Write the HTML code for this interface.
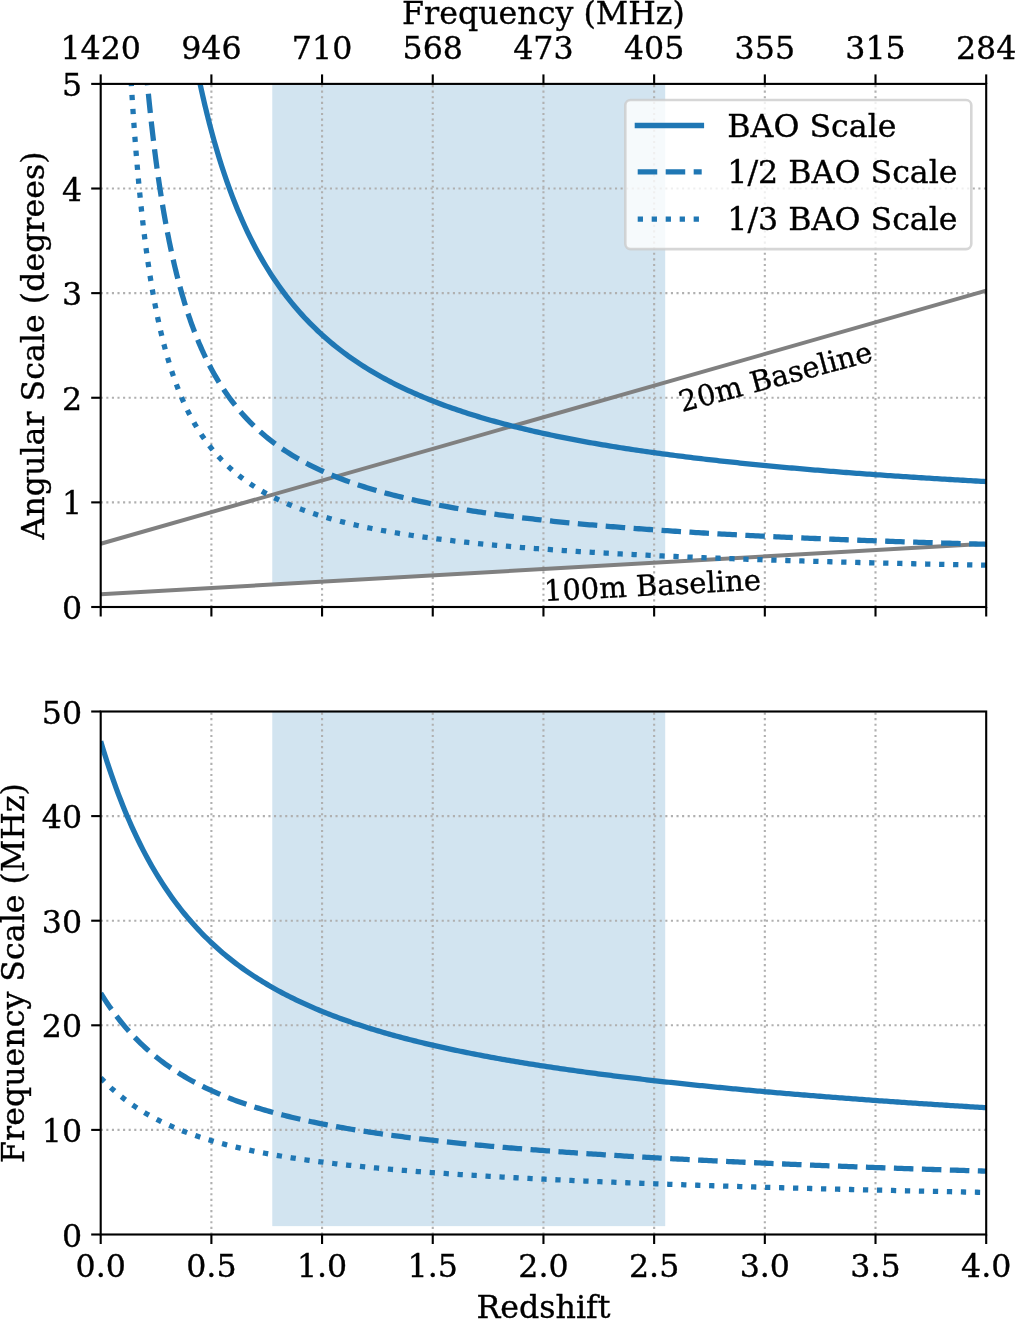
<!DOCTYPE html>
<html lang="en"><head><meta charset="utf-8"><title>BAO Scale vs Redshift</title>
<style>html,body{margin:0;padding:0;background:#fff}svg{display:block}text{stroke:#000;stroke-width:0.35px}</style></head>
<body>
<svg width="1015" height="1319" viewBox="0 0 1015 1319" font-family="'DejaVu Serif', 'Liberation Serif', serif" font-size="31.67" fill="#000">
<rect width="1015" height="1319" fill="#fff"/>
<defs><clipPath id="c1"><rect x="100.7" y="83.9" width="885.5" height="523.1"/></clipPath><clipPath id="c2"><rect x="100.7" y="711.5" width="885.5" height="523.0"/></clipPath></defs>
<g clip-path="url(#c1)">
<polygon fill="#d2e4f0" points="272.27,78.9 665.21,78.9 665.21,562.09 272.27,584.54"/>
<line x1="211.39" y1="607.0" x2="211.39" y2="83.9" stroke="#b0b0b0" stroke-width="2.11" stroke-dasharray="2.11 3.48"/>
<line x1="322.07" y1="607.0" x2="322.07" y2="83.9" stroke="#b0b0b0" stroke-width="2.11" stroke-dasharray="2.11 3.48"/>
<line x1="432.76" y1="607.0" x2="432.76" y2="83.9" stroke="#b0b0b0" stroke-width="2.11" stroke-dasharray="2.11 3.48"/>
<line x1="543.45" y1="607.0" x2="543.45" y2="83.9" stroke="#b0b0b0" stroke-width="2.11" stroke-dasharray="2.11 3.48"/>
<line x1="654.14" y1="607.0" x2="654.14" y2="83.9" stroke="#b0b0b0" stroke-width="2.11" stroke-dasharray="2.11 3.48"/>
<line x1="764.83" y1="607.0" x2="764.83" y2="83.9" stroke="#b0b0b0" stroke-width="2.11" stroke-dasharray="2.11 3.48"/>
<line x1="875.51" y1="607.0" x2="875.51" y2="83.9" stroke="#b0b0b0" stroke-width="2.11" stroke-dasharray="2.11 3.48"/>
<line x1="100.7" y1="502.38" x2="986.2" y2="502.38" stroke="#b0b0b0" stroke-width="2.11" stroke-dasharray="2.11 3.48"/>
<line x1="100.7" y1="397.76" x2="986.2" y2="397.76" stroke="#b0b0b0" stroke-width="2.11" stroke-dasharray="2.11 3.48"/>
<line x1="100.7" y1="293.14" x2="986.2" y2="293.14" stroke="#b0b0b0" stroke-width="2.11" stroke-dasharray="2.11 3.48"/>
<line x1="100.7" y1="188.52" x2="986.2" y2="188.52" stroke="#b0b0b0" stroke-width="2.11" stroke-dasharray="2.11 3.48"/>
<line x1="100.7" y1="543.74" x2="986.2" y2="290.71" stroke="#808080" stroke-width="3.96"/>
<line x1="100.7" y1="594.35" x2="986.2" y2="543.74" stroke="#808080" stroke-width="3.96"/>
<path d="M105.13,-9937.93 L105.66,-8808.23 L106.20,-7898.08 L106.73,-7149.14 L107.26,-6522.07 L107.80,-5989.37 L108.33,-5531.22 L108.87,-5132.99 L109.40,-4783.66 L109.93,-4474.74 L110.47,-4199.61 L111.00,-3953.00 L111.54,-3730.70 L112.07,-3529.29 L112.60,-3345.95 L113.14,-3178.36 L113.67,-3024.57 L114.20,-2882.95 L114.74,-2752.11 L115.27,-2630.85 L115.81,-2518.17 L116.34,-2413.19 L116.87,-2315.14 L117.41,-2223.37 L117.94,-2137.28 L118.48,-2056.36 L119.01,-1980.17 L119.54,-1908.29 L120.08,-1840.38 L120.61,-1776.12 L121.15,-1715.21 L121.68,-1657.41 L122.21,-1602.48 L122.75,-1550.21 L123.28,-1500.41 L123.82,-1452.92 L124.35,-1407.58 L124.88,-1364.24 L125.42,-1322.77 L125.95,-1283.06 L126.49,-1244.99 L127.02,-1208.47 L127.55,-1173.41 L128.09,-1139.71 L128.62,-1107.31 L129.16,-1076.12 L129.69,-1046.09 L130.22,-1017.14 L130.76,-989.22 L131.29,-962.28 L131.83,-936.26 L132.36,-911.12 L132.89,-886.82 L133.43,-863.32 L133.96,-840.56 L134.50,-818.53 L135.03,-797.19 L135.56,-776.50 L136.10,-756.44 L136.63,-736.97 L137.17,-718.08 L137.70,-699.73 L138.23,-681.90 L138.77,-664.58 L139.30,-647.74 L139.84,-631.36 L140.37,-615.42 L140.90,-599.90 L141.44,-584.79 L141.97,-570.08 L142.51,-555.74 L143.04,-541.76 L143.57,-528.14 L144.11,-514.85 L144.64,-501.88 L145.18,-489.23 L145.71,-476.87 L146.24,-464.81 L146.78,-453.03 L147.31,-441.52 L147.85,-430.27 L148.38,-419.27 L148.91,-408.52 L149.45,-398.01 L149.98,-387.72 L150.51,-377.66 L151.05,-367.81 L151.58,-358.16 L152.12,-348.72 L152.65,-339.47 L153.18,-330.42 L153.72,-321.54 L154.25,-312.84 L154.79,-304.32 L155.32,-295.96 L155.85,-287.77 L156.39,-279.73 L156.92,-271.85 L157.46,-264.11 L157.99,-256.53 L158.52,-249.08 L159.06,-241.77 L159.59,-234.59 L160.13,-227.54 L160.66,-220.62 L161.19,-213.82 L161.73,-207.14 L162.26,-200.58 L162.80,-194.13 L163.33,-187.79 L163.86,-181.56 L164.40,-175.43 L164.93,-169.41 L165.47,-163.48 L166.00,-157.66 L166.53,-151.93 L167.07,-146.29 L167.60,-140.74 L168.14,-135.28 L168.67,-129.91 L169.20,-124.62 L169.74,-119.41 L170.27,-114.29 L170.81,-109.24 L171.34,-104.27 L171.87,-99.38 L172.41,-94.56 L172.94,-89.81 L173.48,-85.13 L174.01,-80.52 L174.54,-75.97 L175.08,-71.49 L175.61,-67.08 L176.15,-62.73 L176.68,-58.44 L177.21,-54.21 L177.75,-50.04 L178.28,-45.93 L178.82,-41.88 L179.35,-37.88 L179.88,-33.93 L180.42,-30.04 L180.95,-26.20 L181.49,-22.41 L182.02,-18.68 L182.55,-14.99 L183.09,-11.35 L183.62,-7.75 L184.16,-4.21 L184.69,-0.71 L185.22,2.75 L185.76,6.16 L186.29,9.53 L186.82,12.86 L187.36,16.15 L187.89,19.39 L188.43,22.60 L188.96,25.76 L189.49,28.89 L190.03,31.98 L190.56,35.04 L191.10,38.05 L191.63,41.03 L192.16,43.98 L192.70,46.89 L193.23,49.77 L193.77,52.61 L194.30,55.42 L194.83,58.20 L195.37,60.95 L195.90,63.66 L196.44,66.35 L196.97,69.00 L197.50,71.63 L198.04,74.22 L198.57,76.79 L199.11,79.33 L199.64,81.84 L200.17,84.33 L200.71,86.78 L201.24,89.21 L201.78,91.62 L202.31,94.00 L202.84,96.35 L203.38,98.68 L203.91,100.99 L204.45,103.27 L204.98,105.53 L205.51,107.76 L206.05,109.97 L206.58,112.16 L207.12,114.33 L207.65,116.47 L208.18,118.59 L208.72,120.69 L209.25,122.77 L209.79,124.83 L210.32,126.87 L210.85,128.89 L211.39,130.89 L213.98,140.33 L216.57,149.33 L219.16,157.94 L221.75,166.17 L224.34,174.05 L226.94,181.60 L229.53,188.84 L232.12,195.80 L234.71,202.47 L237.30,208.90 L239.89,215.07 L242.48,221.02 L245.07,226.75 L247.67,232.28 L250.26,237.61 L252.85,242.75 L255.44,247.72 L258.03,252.52 L260.62,257.16 L263.21,261.65 L265.81,266.00 L268.40,270.21 L270.99,274.29 L273.58,278.25 L276.17,282.08 L278.76,285.80 L281.35,289.41 L283.95,292.92 L286.54,296.33 L289.13,299.64 L291.72,302.85 L294.31,305.99 L296.90,309.03 L299.49,312.00 L302.08,314.88 L304.68,317.69 L307.27,320.43 L309.86,323.10 L312.45,325.70 L315.04,328.24 L317.63,330.72 L320.22,333.13 L322.82,335.49 L325.41,337.79 L328.00,340.04 L330.59,342.23 L333.18,344.38 L335.77,346.48 L338.36,348.53 L340.95,350.53 L343.55,352.49 L346.14,354.41 L348.73,356.29 L351.32,358.13 L353.91,359.92 L356.50,361.69 L359.09,363.41 L361.69,365.10 L364.28,366.76 L366.87,368.38 L369.46,369.97 L372.05,371.53 L374.64,373.06 L377.23,374.56 L379.82,376.03 L382.42,377.47 L385.01,378.89 L387.60,380.28 L390.19,381.64 L392.78,382.98 L395.37,384.29 L397.96,385.59 L400.56,386.85 L403.15,388.10 L405.74,389.32 L408.33,390.53 L410.92,391.71 L413.51,392.87 L416.10,394.02 L418.70,395.14 L421.29,396.25 L423.88,397.33 L426.47,398.40 L429.06,399.45 L431.65,400.49 L434.24,401.51 L436.83,402.51 L439.43,403.50 L442.02,404.47 L444.61,405.42 L447.20,406.37 L449.79,407.29 L452.38,408.21 L454.97,409.11 L457.57,409.99 L460.16,410.87 L462.75,411.73 L465.34,412.58 L467.93,413.41 L470.52,414.23 L473.11,415.05 L475.70,415.85 L478.30,416.64 L480.89,417.41 L483.48,418.18 L486.07,418.94 L488.66,419.69 L491.25,420.42 L493.84,421.15 L496.44,421.86 L499.03,422.57 L501.62,423.27 L504.21,423.96 L506.80,424.64 L509.39,425.31 L511.98,425.97 L514.57,426.63 L517.17,427.27 L519.76,427.91 L522.35,428.54 L524.94,429.16 L527.53,429.77 L530.12,430.38 L532.71,430.98 L535.31,431.57 L537.90,432.16 L540.49,432.73 L543.08,433.30 L545.67,433.87 L548.26,434.43 L550.85,434.98 L553.45,435.52 L556.04,436.06 L558.63,436.59 L561.22,437.12 L563.81,437.64 L566.40,438.15 L568.99,438.66 L571.58,439.16 L574.18,439.66 L576.77,440.15 L579.36,440.63 L581.95,441.11 L584.54,441.59 L587.13,442.06 L589.72,442.53 L592.32,442.99 L594.91,443.44 L597.50,443.89 L600.09,444.34 L602.68,444.78 L605.27,445.22 L607.86,445.65 L610.45,446.08 L613.05,446.50 L615.64,446.92 L618.23,447.33 L620.82,447.74 L623.41,448.15 L626.00,448.55 L628.59,448.95 L631.19,449.34 L633.78,449.74 L636.37,450.12 L638.96,450.51 L641.55,450.88 L644.14,451.26 L646.73,451.63 L649.33,452.00 L651.92,452.37 L654.51,452.73 L657.10,453.09 L659.69,453.44 L662.28,453.79 L664.87,454.14 L667.46,454.49 L670.06,454.83 L672.65,455.17 L675.24,455.50 L677.83,455.83 L680.42,456.16 L683.01,456.49 L685.60,456.82 L688.20,457.14 L690.79,457.45 L693.38,457.77 L695.97,458.08 L698.56,458.39 L701.15,458.70 L703.74,459.00 L706.33,459.31 L708.93,459.61 L711.52,459.90 L714.11,460.20 L716.70,460.49 L719.29,460.78 L721.88,461.07 L724.47,461.35 L727.07,461.63 L729.66,461.91 L732.25,462.19 L734.84,462.47 L737.43,462.74 L740.02,463.01 L742.61,463.28 L745.20,463.54 L747.80,463.81 L750.39,464.07 L752.98,464.33 L755.57,464.59 L758.16,464.85 L760.75,465.10 L763.34,465.35 L765.94,465.60 L768.53,465.85 L771.12,466.10 L773.71,466.34 L776.30,466.58 L778.89,466.83 L781.48,467.06 L784.08,467.30 L786.67,467.54 L789.26,467.77 L791.85,468.00 L794.44,468.23 L797.03,468.46 L799.62,468.69 L802.21,468.91 L804.81,469.14 L807.40,469.36 L809.99,469.58 L812.58,469.80 L815.17,470.01 L817.76,470.23 L820.35,470.44 L822.95,470.66 L825.54,470.87 L828.13,471.08 L830.72,471.29 L833.31,471.49 L835.90,471.70 L838.49,471.90 L841.08,472.10 L843.68,472.30 L846.27,472.50 L848.86,472.70 L851.45,472.90 L854.04,473.09 L856.63,473.29 L859.22,473.48 L861.82,473.67 L864.41,473.86 L867.00,474.05 L869.59,474.24 L872.18,474.43 L874.77,474.61 L877.36,474.79 L879.95,474.98 L882.55,475.16 L885.14,475.34 L887.73,475.52 L890.32,475.70 L892.91,475.87 L895.50,476.05 L898.09,476.22 L900.69,476.40 L903.28,476.57 L905.87,476.74 L908.46,476.91 L911.05,477.08 L913.64,477.25 L916.23,477.42 L918.83,477.58 L921.42,477.75 L924.01,477.91 L926.60,478.08 L929.19,478.24 L931.78,478.40 L934.37,478.56 L936.96,478.72 L939.56,478.88 L942.15,479.03 L944.74,479.19 L947.33,479.34 L949.92,479.50 L952.51,479.65 L955.10,479.80 L957.70,479.96 L960.29,480.11 L962.88,480.26 L965.47,480.41 L968.06,480.55 L970.65,480.70 L973.24,480.85 L975.83,480.99 L978.43,481.14 L981.02,481.28 L983.61,481.42 L986.20,481.57" fill="none" stroke="#1f77b4" stroke-width="5.28" stroke-linejoin="round"/>
<path d="M105.13,-4665.47 L105.66,-4100.62 L106.20,-3645.54 L106.73,-3271.07 L107.26,-2957.54 L107.80,-2691.18 L108.33,-2462.11 L108.87,-2263.00 L109.40,-2088.33 L109.93,-1933.87 L110.47,-1796.30 L111.00,-1673.00 L111.54,-1561.85 L112.07,-1461.14 L112.60,-1369.48 L113.14,-1285.68 L113.67,-1208.79 L114.20,-1137.98 L114.74,-1072.55 L115.27,-1011.93 L115.81,-955.59 L116.34,-903.10 L116.87,-854.07 L117.41,-808.18 L117.94,-765.14 L118.48,-724.68 L119.01,-686.58 L119.54,-650.65 L120.08,-616.69 L120.61,-584.56 L121.15,-554.11 L121.68,-525.20 L122.21,-497.74 L122.75,-471.60 L123.28,-446.71 L123.82,-422.96 L124.35,-400.29 L124.88,-378.62 L125.42,-357.88 L125.95,-338.03 L126.49,-319.00 L127.02,-300.74 L127.55,-283.20 L128.09,-266.36 L128.62,-250.15 L129.16,-234.56 L129.69,-219.54 L130.22,-205.07 L130.76,-191.11 L131.29,-177.64 L131.83,-164.63 L132.36,-152.06 L132.89,-139.91 L133.43,-128.16 L133.96,-116.78 L134.50,-105.77 L135.03,-95.09 L135.56,-84.75 L136.10,-74.72 L136.63,-64.99 L137.17,-55.54 L137.70,-46.36 L138.23,-37.45 L138.77,-28.79 L139.30,-20.37 L139.84,-12.18 L140.37,-4.21 L140.90,3.55 L141.44,11.10 L141.97,18.46 L142.51,25.63 L143.04,32.62 L143.57,39.43 L144.11,46.08 L144.64,52.56 L145.18,58.89 L145.71,65.06 L146.24,71.09 L146.78,76.98 L147.31,82.74 L147.85,88.36 L148.38,93.86 L148.91,99.24 L149.45,104.50 L149.98,109.64 L150.51,114.67 L151.05,119.60 L151.58,124.42 L152.12,129.14 L152.65,133.76 L153.18,138.29 L153.72,142.73 L154.25,147.08 L154.79,151.34 L155.32,155.52 L155.85,159.62 L156.39,163.63 L156.92,167.58 L157.46,171.44 L157.99,175.24 L158.52,178.96 L159.06,182.62 L159.59,186.21 L160.13,189.73 L160.66,193.19 L161.19,196.59 L161.73,199.93 L162.26,203.21 L162.80,206.44 L163.33,209.61 L163.86,212.72 L164.40,215.78 L164.93,218.80 L165.47,221.76 L166.00,224.67 L166.53,227.54 L167.07,230.36 L167.60,233.13 L168.14,235.86 L168.67,238.55 L169.20,241.19 L169.74,243.79 L170.27,246.36 L170.81,248.88 L171.34,251.36 L171.87,253.81 L172.41,256.22 L172.94,258.60 L173.48,260.94 L174.01,263.24 L174.54,265.51 L175.08,267.75 L175.61,269.96 L176.15,272.13 L176.68,274.28 L177.21,276.39 L177.75,278.48 L178.28,280.53 L178.82,282.56 L179.35,284.56 L179.88,286.53 L180.42,288.48 L180.95,290.40 L181.49,292.29 L182.02,294.16 L182.55,296.01 L183.09,297.83 L183.62,299.62 L184.16,301.40 L184.69,303.15 L185.22,304.88 L185.76,306.58 L186.29,308.27 L186.82,309.93 L187.36,311.57 L187.89,313.20 L188.43,314.80 L188.96,316.38 L189.49,317.95 L190.03,319.49 L190.56,321.02 L191.10,322.53 L191.63,324.02 L192.16,325.49 L192.70,326.94 L193.23,328.38 L193.77,329.80 L194.30,331.21 L194.83,332.60 L195.37,333.97 L195.90,335.33 L196.44,336.67 L196.97,338.00 L197.50,339.31 L198.04,340.61 L198.57,341.90 L199.11,343.17 L199.64,344.42 L200.17,345.66 L200.71,346.89 L201.24,348.11 L201.78,349.31 L202.31,350.50 L202.84,351.68 L203.38,352.84 L203.91,353.99 L204.45,355.13 L204.98,356.26 L205.51,357.38 L206.05,358.49 L206.58,359.58 L207.12,360.66 L207.65,361.74 L208.18,362.80 L208.72,363.85 L209.25,364.89 L209.79,365.92 L210.32,366.94 L210.85,367.95 L211.39,368.95 L213.98,373.66 L216.57,378.17 L219.16,382.47 L221.75,386.58 L224.34,390.52 L226.94,394.30 L229.53,397.92 L232.12,401.40 L234.71,404.74 L237.30,407.95 L239.89,411.04 L242.48,414.01 L245.07,416.88 L247.67,419.64 L250.26,422.30 L252.85,424.88 L255.44,427.36 L258.03,429.76 L260.62,432.08 L263.21,434.33 L265.81,436.50 L268.40,438.61 L270.99,440.65 L273.58,442.62 L276.17,444.54 L278.76,446.40 L281.35,448.21 L283.95,449.96 L286.54,451.66 L289.13,453.32 L291.72,454.93 L294.31,456.49 L296.90,458.02 L299.49,459.50 L302.08,460.94 L304.68,462.35 L307.27,463.72 L309.86,465.05 L312.45,466.35 L315.04,467.62 L317.63,468.86 L320.22,470.07 L322.82,471.24 L325.41,472.40 L328.00,473.52 L330.59,474.62 L333.18,475.69 L335.77,476.74 L338.36,477.76 L340.95,478.77 L343.55,479.75 L346.14,480.71 L348.73,481.64 L351.32,482.56 L353.91,483.46 L356.50,484.34 L359.09,485.21 L361.69,486.05 L364.28,486.88 L366.87,487.69 L369.46,488.48 L372.05,489.26 L374.64,490.03 L377.23,490.78 L379.82,491.51 L382.42,492.23 L385.01,492.94 L387.60,493.64 L390.19,494.32 L392.78,494.99 L395.37,495.65 L397.96,496.29 L400.56,496.93 L403.15,497.55 L405.74,498.16 L408.33,498.76 L410.92,499.36 L413.51,499.94 L416.10,500.51 L418.70,501.07 L421.29,501.62 L423.88,502.17 L426.47,502.70 L429.06,503.23 L431.65,503.74 L434.24,504.25 L436.83,504.76 L439.43,505.25 L442.02,505.73 L444.61,506.21 L447.20,506.68 L449.79,507.15 L452.38,507.60 L454.97,508.05 L457.57,508.50 L460.16,508.93 L462.75,509.36 L465.34,509.79 L467.93,510.21 L470.52,510.62 L473.11,511.02 L475.70,511.42 L478.30,511.82 L480.89,512.21 L483.48,512.59 L486.07,512.97 L488.66,513.34 L491.25,513.71 L493.84,514.07 L496.44,514.43 L499.03,514.79 L501.62,515.14 L504.21,515.48 L506.80,515.82 L509.39,516.15 L511.98,516.49 L514.57,516.81 L517.17,517.14 L519.76,517.45 L522.35,517.77 L524.94,518.08 L527.53,518.39 L530.12,518.69 L532.71,518.99 L535.31,519.29 L537.90,519.58 L540.49,519.87 L543.08,520.15 L545.67,520.43 L548.26,520.71 L550.85,520.99 L553.45,521.26 L556.04,521.53 L558.63,521.80 L561.22,522.06 L563.81,522.32 L566.40,522.57 L568.99,522.83 L571.58,523.08 L574.18,523.33 L576.77,523.57 L579.36,523.82 L581.95,524.06 L584.54,524.30 L587.13,524.53 L589.72,524.76 L592.32,524.99 L594.91,525.22 L597.50,525.45 L600.09,525.67 L602.68,525.89 L605.27,526.11 L607.86,526.32 L610.45,526.54 L613.05,526.75 L615.64,526.96 L618.23,527.17 L620.82,527.37 L623.41,527.57 L626.00,527.78 L628.59,527.98 L631.19,528.17 L633.78,528.37 L636.37,528.56 L638.96,528.75 L641.55,528.94 L644.14,529.13 L646.73,529.32 L649.33,529.50 L651.92,529.68 L654.51,529.86 L657.10,530.04 L659.69,530.22 L662.28,530.40 L664.87,530.57 L667.46,530.74 L670.06,530.91 L672.65,531.08 L675.24,531.25 L677.83,531.42 L680.42,531.58 L683.01,531.75 L685.60,531.91 L688.20,532.07 L690.79,532.23 L693.38,532.38 L695.97,532.54 L698.56,532.70 L701.15,532.85 L703.74,533.00 L706.33,533.15 L708.93,533.30 L711.52,533.45 L714.11,533.60 L716.70,533.74 L719.29,533.89 L721.88,534.03 L724.47,534.17 L727.07,534.32 L729.66,534.46 L732.25,534.59 L734.84,534.73 L737.43,534.87 L740.02,535.00 L742.61,535.14 L745.20,535.27 L747.80,535.40 L750.39,535.54 L752.98,535.67 L755.57,535.80 L758.16,535.92 L760.75,536.05 L763.34,536.18 L765.94,536.30 L768.53,536.43 L771.12,536.55 L773.71,536.67 L776.30,536.79 L778.89,536.91 L781.48,537.03 L784.08,537.15 L786.67,537.27 L789.26,537.39 L791.85,537.50 L794.44,537.62 L797.03,537.73 L799.62,537.84 L802.21,537.96 L804.81,538.07 L807.40,538.18 L809.99,538.29 L812.58,538.40 L815.17,538.51 L817.76,538.62 L820.35,538.72 L822.95,538.83 L825.54,538.93 L828.13,539.04 L830.72,539.14 L833.31,539.25 L835.90,539.35 L838.49,539.45 L841.08,539.55 L843.68,539.65 L846.27,539.75 L848.86,539.85 L851.45,539.95 L854.04,540.05 L856.63,540.14 L859.22,540.24 L861.82,540.34 L864.41,540.43 L867.00,540.53 L869.59,540.62 L872.18,540.71 L874.77,540.81 L877.36,540.90 L879.95,540.99 L882.55,541.08 L885.14,541.17 L887.73,541.26 L890.32,541.35 L892.91,541.44 L895.50,541.52 L898.09,541.61 L900.69,541.70 L903.28,541.79 L905.87,541.87 L908.46,541.96 L911.05,542.04 L913.64,542.12 L916.23,542.21 L918.83,542.29 L921.42,542.37 L924.01,542.46 L926.60,542.54 L929.19,542.62 L931.78,542.70 L934.37,542.78 L936.96,542.86 L939.56,542.94 L942.15,543.02 L944.74,543.09 L947.33,543.17 L949.92,543.25 L952.51,543.33 L955.10,543.40 L957.70,543.48 L960.29,543.55 L962.88,543.63 L965.47,543.70 L968.06,543.78 L970.65,543.85 L973.24,543.92 L975.83,544.00 L978.43,544.07 L981.02,544.14 L983.61,544.21 L986.20,544.28" fill="none" stroke="#1f77b4" stroke-width="5.28" stroke-linejoin="round" stroke-dasharray="19.54 8.45" stroke-dashoffset="-1.6"/>
<path d="M105.13,-2907.98 L105.66,-2531.41 L106.20,-2228.03 L106.73,-1978.38 L107.26,-1769.36 L107.80,-1591.79 L108.33,-1439.07 L108.87,-1306.33 L109.40,-1189.89 L109.93,-1086.91 L110.47,-995.20 L111.00,-913.00 L111.54,-838.90 L112.07,-771.76 L112.60,-710.65 L113.14,-654.79 L113.67,-603.52 L114.20,-556.32 L114.74,-512.70 L115.27,-472.28 L115.81,-434.72 L116.34,-399.73 L116.87,-367.05 L117.41,-336.46 L117.94,-307.76 L118.48,-280.79 L119.01,-255.39 L119.54,-231.43 L120.08,-208.79 L120.61,-187.37 L121.15,-167.07 L121.68,-147.80 L122.21,-129.49 L122.75,-112.07 L123.28,-95.47 L123.82,-79.64 L124.35,-64.53 L124.88,-50.08 L125.42,-36.26 L125.95,-23.02 L126.49,-10.33 L127.02,1.84 L127.55,13.53 L128.09,24.76 L128.62,35.56 L129.16,45.96 L129.69,55.97 L130.22,65.62 L130.76,74.93 L131.29,83.91 L131.83,92.58 L132.36,100.96 L132.89,109.06 L133.43,116.89 L133.96,124.48 L134.50,131.82 L135.03,138.94 L135.56,145.83 L136.10,152.52 L136.63,159.01 L137.17,165.31 L137.70,171.42 L138.23,177.37 L138.77,183.14 L139.30,188.75 L139.84,194.21 L140.37,199.53 L140.90,204.70 L141.44,209.74 L141.97,214.64 L142.51,219.42 L143.04,224.08 L143.57,228.62 L144.11,233.05 L144.64,237.37 L145.18,241.59 L145.71,245.71 L146.24,249.73 L146.78,253.66 L147.31,257.49 L147.85,261.24 L148.38,264.91 L148.91,268.49 L149.45,272.00 L149.98,275.43 L150.51,278.78 L151.05,282.06 L151.58,285.28 L152.12,288.43 L152.65,291.51 L153.18,294.53 L153.72,297.49 L154.25,300.39 L154.79,303.23 L155.32,306.01 L155.85,308.74 L156.39,311.42 L156.92,314.05 L157.46,316.63 L157.99,319.16 L158.52,321.64 L159.06,324.08 L159.59,326.47 L160.13,328.82 L160.66,331.13 L161.19,333.39 L161.73,335.62 L162.26,337.81 L162.80,339.96 L163.33,342.07 L163.86,344.15 L164.40,346.19 L164.93,348.20 L165.47,350.17 L166.00,352.11 L166.53,354.02 L167.07,355.90 L167.60,357.75 L168.14,359.57 L168.67,361.36 L169.20,363.13 L169.74,364.86 L170.27,366.57 L170.81,368.25 L171.34,369.91 L171.87,371.54 L172.41,373.15 L172.94,374.73 L173.48,376.29 L174.01,377.83 L174.54,379.34 L175.08,380.84 L175.61,382.31 L176.15,383.76 L176.68,385.19 L177.21,386.60 L177.75,387.99 L178.28,389.36 L178.82,390.71 L179.35,392.04 L179.88,393.36 L180.42,394.65 L180.95,395.93 L181.49,397.20 L182.02,398.44 L182.55,399.67 L183.09,400.88 L183.62,402.08 L184.16,403.26 L184.69,404.43 L185.22,405.58 L185.76,406.72 L186.29,407.84 L186.82,408.95 L187.36,410.05 L187.89,411.13 L188.43,412.20 L188.96,413.25 L189.49,414.30 L190.03,415.33 L190.56,416.35 L191.10,417.35 L191.63,418.34 L192.16,419.33 L192.70,420.30 L193.23,421.26 L193.77,422.20 L194.30,423.14 L194.83,424.07 L195.37,424.98 L195.90,425.89 L196.44,426.78 L196.97,427.67 L197.50,428.54 L198.04,429.41 L198.57,430.26 L199.11,431.11 L199.64,431.95 L200.17,432.78 L200.71,433.59 L201.24,434.40 L201.78,435.21 L202.31,436.00 L202.84,436.78 L203.38,437.56 L203.91,438.33 L204.45,439.09 L204.98,439.84 L205.51,440.59 L206.05,441.32 L206.58,442.05 L207.12,442.78 L207.65,443.49 L208.18,444.20 L208.72,444.90 L209.25,445.59 L209.79,446.28 L210.32,446.96 L210.85,447.63 L211.39,448.30 L213.98,451.44 L216.57,454.44 L219.16,457.31 L221.75,460.06 L224.34,462.68 L226.94,465.20 L229.53,467.61 L232.12,469.93 L234.71,472.16 L237.30,474.30 L239.89,476.36 L242.48,478.34 L245.07,480.25 L247.67,482.09 L250.26,483.87 L252.85,485.58 L255.44,487.24 L258.03,488.84 L260.62,490.39 L263.21,491.88 L265.81,493.33 L268.40,494.74 L270.99,496.10 L273.58,497.42 L276.17,498.69 L278.76,499.93 L281.35,501.14 L283.95,502.31 L286.54,503.44 L289.13,504.55 L291.72,505.62 L294.31,506.66 L296.90,507.68 L299.49,508.67 L302.08,509.63 L304.68,510.56 L307.27,511.48 L309.86,512.37 L312.45,513.23 L315.04,514.08 L317.63,514.91 L320.22,515.71 L322.82,516.50 L325.41,517.26 L328.00,518.01 L330.59,518.74 L333.18,519.46 L335.77,520.16 L338.36,520.84 L340.95,521.51 L343.55,522.16 L346.14,522.80 L348.73,523.43 L351.32,524.04 L353.91,524.64 L356.50,525.23 L359.09,525.80 L361.69,526.37 L364.28,526.92 L366.87,527.46 L369.46,527.99 L372.05,528.51 L374.64,529.02 L377.23,529.52 L379.82,530.01 L382.42,530.49 L385.01,530.96 L387.60,531.43 L390.19,531.88 L392.78,532.33 L395.37,532.76 L397.96,533.20 L400.56,533.62 L403.15,534.03 L405.74,534.44 L408.33,534.84 L410.92,535.24 L413.51,535.62 L416.10,536.01 L418.70,536.38 L421.29,536.75 L423.88,537.11 L426.47,537.47 L429.06,537.82 L431.65,538.16 L434.24,538.50 L436.83,538.84 L439.43,539.17 L442.02,539.49 L444.61,539.81 L447.20,540.12 L449.79,540.43 L452.38,540.74 L454.97,541.04 L457.57,541.33 L460.16,541.62 L462.75,541.91 L465.34,542.19 L467.93,542.47 L470.52,542.74 L473.11,543.02 L475.70,543.28 L478.30,543.55 L480.89,543.80 L483.48,544.06 L486.07,544.31 L488.66,544.56 L491.25,544.81 L493.84,545.05 L496.44,545.29 L499.03,545.52 L501.62,545.76 L504.21,545.99 L506.80,546.21 L509.39,546.44 L511.98,546.66 L514.57,546.88 L517.17,547.09 L519.76,547.30 L522.35,547.51 L524.94,547.72 L527.53,547.92 L530.12,548.13 L532.71,548.33 L535.31,548.52 L537.90,548.72 L540.49,548.91 L543.08,549.10 L545.67,549.29 L548.26,549.48 L550.85,549.66 L553.45,549.84 L556.04,550.02 L558.63,550.20 L561.22,550.37 L563.81,550.55 L566.40,550.72 L568.99,550.89 L571.58,551.05 L574.18,551.22 L576.77,551.38 L579.36,551.54 L581.95,551.70 L584.54,551.86 L587.13,552.02 L589.72,552.18 L592.32,552.33 L594.91,552.48 L597.50,552.63 L600.09,552.78 L602.68,552.93 L605.27,553.07 L607.86,553.22 L610.45,553.36 L613.05,553.50 L615.64,553.64 L618.23,553.78 L620.82,553.91 L623.41,554.05 L626.00,554.18 L628.59,554.32 L631.19,554.45 L633.78,554.58 L636.37,554.71 L638.96,554.84 L641.55,554.96 L644.14,555.09 L646.73,555.21 L649.33,555.33 L651.92,555.46 L654.51,555.58 L657.10,555.70 L659.69,555.81 L662.28,555.93 L664.87,556.05 L667.46,556.16 L670.06,556.28 L672.65,556.39 L675.24,556.50 L677.83,556.61 L680.42,556.72 L683.01,556.83 L685.60,556.94 L688.20,557.05 L690.79,557.15 L693.38,557.26 L695.97,557.36 L698.56,557.46 L701.15,557.57 L703.74,557.67 L706.33,557.77 L708.93,557.87 L711.52,557.97 L714.11,558.07 L716.70,558.16 L719.29,558.26 L721.88,558.36 L724.47,558.45 L727.07,558.54 L729.66,558.64 L732.25,558.73 L734.84,558.82 L737.43,558.91 L740.02,559.00 L742.61,559.09 L745.20,559.18 L747.80,559.27 L750.39,559.36 L752.98,559.44 L755.57,559.53 L758.16,559.62 L760.75,559.70 L763.34,559.78 L765.94,559.87 L768.53,559.95 L771.12,560.03 L773.71,560.11 L776.30,560.19 L778.89,560.28 L781.48,560.35 L784.08,560.43 L786.67,560.51 L789.26,560.59 L791.85,560.67 L794.44,560.74 L797.03,560.82 L799.62,560.90 L802.21,560.97 L804.81,561.05 L807.40,561.12 L809.99,561.19 L812.58,561.27 L815.17,561.34 L817.76,561.41 L820.35,561.48 L822.95,561.55 L825.54,561.62 L828.13,561.69 L830.72,561.76 L833.31,561.83 L835.90,561.90 L838.49,561.97 L841.08,562.03 L843.68,562.10 L846.27,562.17 L848.86,562.23 L851.45,562.30 L854.04,562.36 L856.63,562.43 L859.22,562.49 L861.82,562.56 L864.41,562.62 L867.00,562.68 L869.59,562.75 L872.18,562.81 L874.77,562.87 L877.36,562.93 L879.95,562.99 L882.55,563.05 L885.14,563.11 L887.73,563.17 L890.32,563.23 L892.91,563.29 L895.50,563.35 L898.09,563.41 L900.69,563.47 L903.28,563.52 L905.87,563.58 L908.46,563.64 L911.05,563.69 L913.64,563.75 L916.23,563.81 L918.83,563.86 L921.42,563.92 L924.01,563.97 L926.60,564.03 L929.19,564.08 L931.78,564.13 L934.37,564.19 L936.96,564.24 L939.56,564.29 L942.15,564.34 L944.74,564.40 L947.33,564.45 L949.92,564.50 L952.51,564.55 L955.10,564.60 L957.70,564.65 L960.29,564.70 L962.88,564.75 L965.47,564.80 L968.06,564.85 L970.65,564.90 L973.24,564.95 L975.83,565.00 L978.43,565.05 L981.02,565.09 L983.61,565.14 L986.20,565.19" fill="none" stroke="#1f77b4" stroke-width="5.28" stroke-linejoin="round" stroke-dasharray="5.28 8.71" stroke-dashoffset="4.7"/>
</g>
<text font-size="29.0" transform="translate(682.1,412.1) rotate(-15)">20m Baseline</text>
<text font-size="29.0" transform="translate(544.5,601.1) rotate(-3)">100m Baseline</text>
<rect x="100.7" y="83.9" width="885.5" height="523.1" fill="none" stroke="#000" stroke-width="2.11"/>
<line x1="100.70" y1="607.0" x2="100.70" y2="616.5" stroke="#000" stroke-width="2.11"/>
<line x1="100.70" y1="83.9" x2="100.70" y2="74.4" stroke="#000" stroke-width="2.11"/>
<text x="100.70" y="59.3" text-anchor="middle">1420</text>
<line x1="211.39" y1="607.0" x2="211.39" y2="616.5" stroke="#000" stroke-width="2.11"/>
<line x1="211.39" y1="83.9" x2="211.39" y2="74.4" stroke="#000" stroke-width="2.11"/>
<text x="211.39" y="59.3" text-anchor="middle">946</text>
<line x1="322.07" y1="607.0" x2="322.07" y2="616.5" stroke="#000" stroke-width="2.11"/>
<line x1="322.07" y1="83.9" x2="322.07" y2="74.4" stroke="#000" stroke-width="2.11"/>
<text x="322.07" y="59.3" text-anchor="middle">710</text>
<line x1="432.76" y1="607.0" x2="432.76" y2="616.5" stroke="#000" stroke-width="2.11"/>
<line x1="432.76" y1="83.9" x2="432.76" y2="74.4" stroke="#000" stroke-width="2.11"/>
<text x="432.76" y="59.3" text-anchor="middle">568</text>
<line x1="543.45" y1="607.0" x2="543.45" y2="616.5" stroke="#000" stroke-width="2.11"/>
<line x1="543.45" y1="83.9" x2="543.45" y2="74.4" stroke="#000" stroke-width="2.11"/>
<text x="543.45" y="59.3" text-anchor="middle">473</text>
<line x1="654.14" y1="607.0" x2="654.14" y2="616.5" stroke="#000" stroke-width="2.11"/>
<line x1="654.14" y1="83.9" x2="654.14" y2="74.4" stroke="#000" stroke-width="2.11"/>
<text x="654.14" y="59.3" text-anchor="middle">405</text>
<line x1="764.83" y1="607.0" x2="764.83" y2="616.5" stroke="#000" stroke-width="2.11"/>
<line x1="764.83" y1="83.9" x2="764.83" y2="74.4" stroke="#000" stroke-width="2.11"/>
<text x="764.83" y="59.3" text-anchor="middle">355</text>
<line x1="875.51" y1="607.0" x2="875.51" y2="616.5" stroke="#000" stroke-width="2.11"/>
<line x1="875.51" y1="83.9" x2="875.51" y2="74.4" stroke="#000" stroke-width="2.11"/>
<text x="875.51" y="59.3" text-anchor="middle">315</text>
<line x1="986.20" y1="607.0" x2="986.20" y2="616.5" stroke="#000" stroke-width="2.11"/>
<line x1="986.20" y1="83.9" x2="986.20" y2="74.4" stroke="#000" stroke-width="2.11"/>
<text x="986.20" y="59.3" text-anchor="middle">284</text>
<line x1="100.7" y1="607.00" x2="91.2" y2="607.00" stroke="#000" stroke-width="2.11"/>
<text x="82.1" y="619.00" text-anchor="end">0</text>
<line x1="100.7" y1="502.38" x2="91.2" y2="502.38" stroke="#000" stroke-width="2.11"/>
<text x="82.1" y="514.38" text-anchor="end">1</text>
<line x1="100.7" y1="397.76" x2="91.2" y2="397.76" stroke="#000" stroke-width="2.11"/>
<text x="82.1" y="409.76" text-anchor="end">2</text>
<line x1="100.7" y1="293.14" x2="91.2" y2="293.14" stroke="#000" stroke-width="2.11"/>
<text x="82.1" y="305.14" text-anchor="end">3</text>
<line x1="100.7" y1="188.52" x2="91.2" y2="188.52" stroke="#000" stroke-width="2.11"/>
<text x="82.1" y="200.52" text-anchor="end">4</text>
<line x1="100.7" y1="83.90" x2="91.2" y2="83.90" stroke="#000" stroke-width="2.11"/>
<text x="82.1" y="95.90" text-anchor="end">5</text>
<text x="543.45" y="23.5" text-anchor="middle">Frequency (MHz)</text>
<text transform="translate(44,345.45) rotate(-90)" text-anchor="middle">Angular Scale (degrees)</text>
<rect x="625.3" y="100.0" width="346.0" height="149.1" rx="5.3" ry="5.3" fill="#fff" fill-opacity="0.8" stroke="#ccc" stroke-opacity="0.8" stroke-width="2.6"/>
<line x1="634.7" y1="125.5" x2="704.1" y2="125.5" stroke="#1f77b4" stroke-width="5.28"/>
<text x="727.3" y="137.0">BAO Scale</text>
<line x1="637.7" y1="171.8" x2="701.7" y2="171.8" stroke="#1f77b4" stroke-width="5.28" stroke-dasharray="19.54 8.45"/>
<text x="727.3" y="183.2">1/2 BAO Scale</text>
<line x1="637.7" y1="219.1" x2="701.7" y2="219.1" stroke="#1f77b4" stroke-width="5.28" stroke-dasharray="5.28 8.71"/>
<text x="727.3" y="229.8">1/3 BAO Scale</text>
<g clip-path="url(#c2)">
<rect fill="#d2e4f0" x="272.27" y="706.5" width="392.94" height="519.63"/>
<line x1="211.39" y1="1234.5" x2="211.39" y2="711.5" stroke="#b0b0b0" stroke-width="2.11" stroke-dasharray="2.11 3.48"/>
<line x1="322.07" y1="1234.5" x2="322.07" y2="711.5" stroke="#b0b0b0" stroke-width="2.11" stroke-dasharray="2.11 3.48"/>
<line x1="432.76" y1="1234.5" x2="432.76" y2="711.5" stroke="#b0b0b0" stroke-width="2.11" stroke-dasharray="2.11 3.48"/>
<line x1="543.45" y1="1234.5" x2="543.45" y2="711.5" stroke="#b0b0b0" stroke-width="2.11" stroke-dasharray="2.11 3.48"/>
<line x1="654.14" y1="1234.5" x2="654.14" y2="711.5" stroke="#b0b0b0" stroke-width="2.11" stroke-dasharray="2.11 3.48"/>
<line x1="764.83" y1="1234.5" x2="764.83" y2="711.5" stroke="#b0b0b0" stroke-width="2.11" stroke-dasharray="2.11 3.48"/>
<line x1="875.51" y1="1234.5" x2="875.51" y2="711.5" stroke="#b0b0b0" stroke-width="2.11" stroke-dasharray="2.11 3.48"/>
<line x1="100.7" y1="1129.90" x2="986.2" y2="1129.90" stroke="#b0b0b0" stroke-width="2.11" stroke-dasharray="2.11 3.48"/>
<line x1="100.7" y1="1025.30" x2="986.2" y2="1025.30" stroke="#b0b0b0" stroke-width="2.11" stroke-dasharray="2.11 3.48"/>
<line x1="100.7" y1="920.70" x2="986.2" y2="920.70" stroke="#b0b0b0" stroke-width="2.11" stroke-dasharray="2.11 3.48"/>
<line x1="100.7" y1="816.10" x2="986.2" y2="816.10" stroke="#b0b0b0" stroke-width="2.11" stroke-dasharray="2.11 3.48"/>
<path d="M100.70,741.31 L102.92,748.67 L105.14,755.81 L107.36,762.72 L109.58,769.43 L111.80,775.93 L114.02,782.24 L116.24,788.36 L118.45,794.30 L120.67,800.07 L122.89,805.68 L125.11,811.13 L127.33,816.42 L129.55,821.56 L131.77,826.56 L133.99,831.43 L136.21,836.16 L138.43,840.76 L140.65,845.24 L142.87,849.60 L145.09,853.85 L147.31,857.99 L149.52,862.01 L151.74,865.94 L153.96,869.77 L156.18,873.50 L158.40,877.13 L160.62,880.68 L162.84,884.14 L165.06,887.51 L167.28,890.81 L169.50,894.02 L171.72,897.16 L173.94,900.22 L176.16,903.22 L178.38,906.14 L180.59,909.00 L182.81,911.79 L185.03,914.52 L187.25,917.18 L189.47,919.79 L191.69,922.34 L193.91,924.84 L196.13,927.28 L198.35,929.67 L200.57,932.01 L202.79,934.30 L205.01,936.54 L207.23,938.73 L209.45,940.88 L211.66,942.99 L213.88,945.05 L216.10,947.07 L218.32,949.05 L220.54,950.99 L222.76,952.90 L224.98,954.77 L227.20,956.60 L229.42,958.39 L231.64,960.16 L233.86,961.88 L236.08,963.58 L238.30,965.25 L240.52,966.88 L242.74,968.49 L244.95,970.06 L247.17,971.61 L249.39,973.13 L251.61,974.63 L253.83,976.09 L256.05,977.54 L258.27,978.96 L260.49,980.35 L262.71,981.72 L264.93,983.07 L267.15,984.39 L269.37,985.69 L271.59,986.98 L273.81,988.24 L276.02,989.48 L278.24,990.70 L280.46,991.90 L282.68,993.08 L284.90,994.25 L287.12,995.39 L289.34,996.52 L291.56,997.63 L293.78,998.73 L296.00,999.81 L298.22,1000.87 L300.44,1001.92 L302.66,1002.95 L304.88,1003.96 L307.09,1004.97 L309.31,1005.95 L311.53,1006.93 L313.75,1007.89 L315.97,1008.83 L318.19,1009.77 L320.41,1010.69 L322.63,1011.60 L324.85,1012.49 L327.07,1013.37 L329.29,1014.25 L331.51,1015.11 L333.73,1015.96 L335.95,1016.80 L338.16,1017.62 L340.38,1018.44 L342.60,1019.25 L344.82,1020.04 L347.04,1020.83 L349.26,1021.60 L351.48,1022.37 L353.70,1023.13 L355.92,1023.88 L358.14,1024.62 L360.36,1025.35 L362.58,1026.07 L364.80,1026.78 L367.02,1027.49 L369.24,1028.18 L371.45,1028.87 L373.67,1029.55 L375.89,1030.23 L378.11,1030.89 L380.33,1031.55 L382.55,1032.20 L384.77,1032.85 L386.99,1033.48 L389.21,1034.11 L391.43,1034.73 L393.65,1035.35 L395.87,1035.96 L398.09,1036.56 L400.31,1037.16 L402.52,1037.75 L404.74,1038.33 L406.96,1038.91 L409.18,1039.49 L411.40,1040.05 L413.62,1040.61 L415.84,1041.17 L418.06,1041.72 L420.28,1042.26 L422.50,1042.80 L424.72,1043.34 L426.94,1043.86 L429.16,1044.39 L431.38,1044.91 L433.59,1045.42 L435.81,1045.93 L438.03,1046.43 L440.25,1046.93 L442.47,1047.43 L444.69,1047.92 L446.91,1048.40 L449.13,1048.89 L451.35,1049.36 L453.57,1049.83 L455.79,1050.30 L458.01,1050.77 L460.23,1051.23 L462.45,1051.68 L464.66,1052.14 L466.88,1052.59 L469.10,1053.03 L471.32,1053.47 L473.54,1053.91 L475.76,1054.34 L477.98,1054.77 L480.20,1055.20 L482.42,1055.62 L484.64,1056.04 L486.86,1056.46 L489.08,1056.87 L491.30,1057.28 L493.52,1057.68 L495.74,1058.09 L497.95,1058.49 L500.17,1058.88 L502.39,1059.28 L504.61,1059.67 L506.83,1060.05 L509.05,1060.44 L511.27,1060.82 L513.49,1061.20 L515.71,1061.57 L517.93,1061.95 L520.15,1062.32 L522.37,1062.68 L524.59,1063.05 L526.81,1063.41 L529.02,1063.77 L531.24,1064.13 L533.46,1064.48 L535.68,1064.83 L537.90,1065.18 L540.12,1065.53 L542.34,1065.87 L544.56,1066.21 L546.78,1066.55 L549.00,1066.89 L551.22,1067.23 L553.44,1067.56 L555.66,1067.89 L557.88,1068.22 L560.09,1068.54 L562.31,1068.87 L564.53,1069.19 L566.75,1069.51 L568.97,1069.82 L571.19,1070.14 L573.41,1070.45 L575.63,1070.76 L577.85,1071.07 L580.07,1071.38 L582.29,1071.68 L584.51,1071.99 L586.73,1072.29 L588.95,1072.59 L591.16,1072.88 L593.38,1073.18 L595.60,1073.47 L597.82,1073.76 L600.04,1074.05 L602.26,1074.34 L604.48,1074.63 L606.70,1074.91 L608.92,1075.20 L611.14,1075.48 L613.36,1075.76 L615.58,1076.04 L617.80,1076.31 L620.02,1076.59 L622.24,1076.86 L624.45,1077.13 L626.67,1077.40 L628.89,1077.67 L631.11,1077.94 L633.33,1078.20 L635.55,1078.46 L637.77,1078.73 L639.99,1078.99 L642.21,1079.25 L644.43,1079.50 L646.65,1079.76 L648.87,1080.02 L651.09,1080.27 L653.31,1080.52 L655.52,1080.77 L657.74,1081.02 L659.96,1081.27 L662.18,1081.52 L664.40,1081.76 L666.62,1082.01 L668.84,1082.25 L671.06,1082.49 L673.28,1082.73 L675.50,1082.97 L677.72,1083.21 L679.94,1083.44 L682.16,1083.68 L684.38,1083.91 L686.59,1084.15 L688.81,1084.38 L691.03,1084.61 L693.25,1084.84 L695.47,1085.06 L697.69,1085.29 L699.91,1085.52 L702.13,1085.74 L704.35,1085.97 L706.57,1086.19 L708.79,1086.41 L711.01,1086.63 L713.23,1086.85 L715.45,1087.07 L717.66,1087.28 L719.88,1087.50 L722.10,1087.71 L724.32,1087.93 L726.54,1088.14 L728.76,1088.35 L730.98,1088.56 L733.20,1088.77 L735.42,1088.98 L737.64,1089.19 L739.86,1089.40 L742.08,1089.60 L744.30,1089.81 L746.52,1090.01 L748.74,1090.21 L750.95,1090.41 L753.17,1090.62 L755.39,1090.82 L757.61,1091.02 L759.83,1091.21 L762.05,1091.41 L764.27,1091.61 L766.49,1091.80 L768.71,1092.00 L770.93,1092.19 L773.15,1092.39 L775.37,1092.58 L777.59,1092.77 L779.81,1092.96 L782.02,1093.15 L784.24,1093.34 L786.46,1093.53 L788.68,1093.71 L790.90,1093.90 L793.12,1094.08 L795.34,1094.27 L797.56,1094.45 L799.78,1094.64 L802.00,1094.82 L804.22,1095.00 L806.44,1095.18 L808.66,1095.36 L810.88,1095.54 L813.09,1095.72 L815.31,1095.90 L817.53,1096.07 L819.75,1096.25 L821.97,1096.43 L824.19,1096.60 L826.41,1096.78 L828.63,1096.95 L830.85,1097.12 L833.07,1097.29 L835.29,1097.47 L837.51,1097.64 L839.73,1097.81 L841.95,1097.98 L844.16,1098.14 L846.38,1098.31 L848.60,1098.48 L850.82,1098.65 L853.04,1098.81 L855.26,1098.98 L857.48,1099.14 L859.70,1099.31 L861.92,1099.47 L864.14,1099.63 L866.36,1099.80 L868.58,1099.96 L870.80,1100.12 L873.02,1100.28 L875.24,1100.44 L877.45,1100.60 L879.67,1100.76 L881.89,1100.91 L884.11,1101.07 L886.33,1101.23 L888.55,1101.38 L890.77,1101.54 L892.99,1101.69 L895.21,1101.85 L897.43,1102.00 L899.65,1102.15 L901.87,1102.31 L904.09,1102.46 L906.31,1102.61 L908.52,1102.76 L910.74,1102.91 L912.96,1103.06 L915.18,1103.21 L917.40,1103.36 L919.62,1103.51 L921.84,1103.66 L924.06,1103.80 L926.28,1103.95 L928.50,1104.10 L930.72,1104.24 L932.94,1104.39 L935.16,1104.53 L937.38,1104.68 L939.59,1104.82 L941.81,1104.96 L944.03,1105.10 L946.25,1105.25 L948.47,1105.39 L950.69,1105.53 L952.91,1105.67 L955.13,1105.81 L957.35,1105.95 L959.57,1106.09 L961.79,1106.23 L964.01,1106.36 L966.23,1106.50 L968.45,1106.64 L970.66,1106.78 L972.88,1106.91 L975.10,1107.05 L977.32,1107.18 L979.54,1107.32 L981.76,1107.45 L983.98,1107.59 L986.20,1107.72" fill="none" stroke="#1f77b4" stroke-width="5.28" stroke-linejoin="round"/>
<path d="M100.70,993.08 L102.92,996.64 L105.14,1000.09 L107.36,1003.43 L109.58,1006.67 L111.80,1009.81 L114.02,1012.86 L116.24,1015.83 L118.45,1018.70 L120.67,1021.49 L122.89,1024.20 L125.11,1026.83 L127.33,1029.39 L129.55,1031.88 L131.77,1034.30 L133.99,1036.65 L136.21,1038.94 L138.43,1041.17 L140.65,1043.34 L142.87,1045.45 L145.09,1047.51 L147.31,1049.51 L149.52,1051.46 L151.74,1053.36 L153.96,1055.21 L156.18,1057.02 L158.40,1058.78 L160.62,1060.49 L162.84,1062.17 L165.06,1063.80 L167.28,1065.40 L169.50,1066.95 L171.72,1068.48 L173.94,1069.96 L176.16,1071.41 L178.38,1072.83 L180.59,1074.21 L182.81,1075.56 L185.03,1076.88 L187.25,1078.18 L189.47,1079.44 L191.69,1080.68 L193.91,1081.89 L196.13,1083.07 L198.35,1084.23 L200.57,1085.36 L202.79,1086.47 L205.01,1087.56 L207.23,1088.62 L209.45,1089.66 L211.66,1090.68 L213.88,1091.68 L216.10,1092.66 L218.32,1093.62 L220.54,1094.57 L222.76,1095.49 L224.98,1096.40 L227.20,1097.28 L229.42,1098.16 L231.64,1099.01 L233.86,1099.85 L236.08,1100.67 L238.30,1101.48 L240.52,1102.27 L242.74,1103.05 L244.95,1103.82 L247.17,1104.57 L249.39,1105.31 L251.61,1106.03 L253.83,1106.74 L256.05,1107.44 L258.27,1108.13 L260.49,1108.81 L262.71,1109.47 L264.93,1110.13 L267.15,1110.77 L269.37,1111.40 L271.59,1112.03 L273.81,1112.64 L276.02,1113.24 L278.24,1113.83 L280.46,1114.42 L282.68,1114.99 L284.90,1115.56 L287.12,1116.11 L289.34,1116.66 L291.56,1117.20 L293.78,1117.73 L296.00,1118.26 L298.22,1118.77 L300.44,1119.28 L302.66,1119.78 L304.88,1120.28 L307.09,1120.77 L309.31,1121.25 L311.53,1121.72 L313.75,1122.19 L315.97,1122.65 L318.19,1123.10 L320.41,1123.55 L322.63,1123.99 L324.85,1124.42 L327.07,1124.85 L329.29,1125.28 L331.51,1125.70 L333.73,1126.11 L335.95,1126.52 L338.16,1126.92 L340.38,1127.32 L342.60,1127.71 L344.82,1128.10 L347.04,1128.48 L349.26,1128.86 L351.48,1129.23 L353.70,1129.60 L355.92,1129.96 L358.14,1130.32 L360.36,1130.68 L362.58,1131.03 L364.80,1131.38 L367.02,1131.72 L369.24,1132.06 L371.45,1132.40 L373.67,1132.73 L375.89,1133.06 L378.11,1133.38 L380.33,1133.70 L382.55,1134.02 L384.77,1134.33 L386.99,1134.64 L389.21,1134.95 L391.43,1135.25 L393.65,1135.55 L395.87,1135.85 L398.09,1136.14 L400.31,1136.44 L402.52,1136.72 L404.74,1137.01 L406.96,1137.29 L409.18,1137.57 L411.40,1137.85 L413.62,1138.12 L415.84,1138.39 L418.06,1138.66 L420.28,1138.92 L422.50,1139.19 L424.72,1139.45 L426.94,1139.71 L429.16,1139.96 L431.38,1140.22 L433.59,1140.47 L435.81,1140.71 L438.03,1140.96 L440.25,1141.20 L442.47,1141.45 L444.69,1141.69 L446.91,1141.92 L449.13,1142.16 L451.35,1142.39 L453.57,1142.62 L455.79,1142.85 L458.01,1143.08 L460.23,1143.30 L462.45,1143.53 L464.66,1143.75 L466.88,1143.97 L469.10,1144.18 L471.32,1144.40 L473.54,1144.61 L475.76,1144.83 L477.98,1145.04 L480.20,1145.25 L482.42,1145.45 L484.64,1145.66 L486.86,1145.86 L489.08,1146.06 L491.30,1146.26 L493.52,1146.46 L495.74,1146.66 L497.95,1146.85 L500.17,1147.05 L502.39,1147.24 L504.61,1147.43 L506.83,1147.62 L509.05,1147.81 L511.27,1148.00 L513.49,1148.18 L515.71,1148.37 L517.93,1148.55 L520.15,1148.73 L522.37,1148.91 L524.59,1149.09 L526.81,1149.27 L529.02,1149.44 L531.24,1149.62 L533.46,1149.79 L535.68,1149.96 L537.90,1150.14 L540.12,1150.31 L542.34,1150.48 L544.56,1150.64 L546.78,1150.81 L549.00,1150.97 L551.22,1151.14 L553.44,1151.30 L555.66,1151.46 L557.88,1151.63 L560.09,1151.79 L562.31,1151.94 L564.53,1152.10 L566.75,1152.26 L568.97,1152.41 L571.19,1152.57 L573.41,1152.72 L575.63,1152.88 L577.85,1153.03 L580.07,1153.18 L582.29,1153.33 L584.51,1153.48 L586.73,1153.62 L588.95,1153.77 L591.16,1153.92 L593.38,1154.06 L595.60,1154.21 L597.82,1154.35 L600.04,1154.49 L602.26,1154.64 L604.48,1154.78 L606.70,1154.92 L608.92,1155.06 L611.14,1155.19 L613.36,1155.33 L615.58,1155.47 L617.80,1155.60 L620.02,1155.74 L622.24,1155.87 L624.45,1156.01 L626.67,1156.14 L628.89,1156.27 L631.11,1156.40 L633.33,1156.53 L635.55,1156.66 L637.77,1156.79 L639.99,1156.92 L642.21,1157.05 L644.43,1157.18 L646.65,1157.30 L648.87,1157.43 L651.09,1157.55 L653.31,1157.68 L655.52,1157.80 L657.74,1157.92 L659.96,1158.05 L662.18,1158.17 L664.40,1158.29 L666.62,1158.41 L668.84,1158.53 L671.06,1158.65 L673.28,1158.77 L675.50,1158.88 L677.72,1159.00 L679.94,1159.12 L682.16,1159.23 L684.38,1159.35 L686.59,1159.47 L688.81,1159.58 L691.03,1159.69 L693.25,1159.81 L695.47,1159.92 L697.69,1160.03 L699.91,1160.14 L702.13,1160.25 L704.35,1160.36 L706.57,1160.47 L708.79,1160.58 L711.01,1160.69 L713.23,1160.80 L715.45,1160.91 L717.66,1161.01 L719.88,1161.12 L722.10,1161.23 L724.32,1161.33 L726.54,1161.44 L728.76,1161.54 L730.98,1161.65 L733.20,1161.75 L735.42,1161.85 L737.64,1161.96 L739.86,1162.06 L742.08,1162.16 L744.30,1162.26 L746.52,1162.36 L748.74,1162.46 L750.95,1162.56 L753.17,1162.66 L755.39,1162.76 L757.61,1162.86 L759.83,1162.96 L762.05,1163.05 L764.27,1163.15 L766.49,1163.25 L768.71,1163.35 L770.93,1163.44 L773.15,1163.54 L775.37,1163.63 L777.59,1163.73 L779.81,1163.82 L782.02,1163.91 L784.24,1164.01 L786.46,1164.10 L788.68,1164.19 L790.90,1164.29 L793.12,1164.38 L795.34,1164.47 L797.56,1164.56 L799.78,1164.65 L802.00,1164.74 L804.22,1164.83 L806.44,1164.92 L808.66,1165.01 L810.88,1165.10 L813.09,1165.19 L815.31,1165.28 L817.53,1165.36 L819.75,1165.45 L821.97,1165.54 L824.19,1165.63 L826.41,1165.71 L828.63,1165.80 L830.85,1165.88 L833.07,1165.97 L835.29,1166.05 L837.51,1166.14 L839.73,1166.22 L841.95,1166.31 L844.16,1166.39 L846.38,1166.47 L848.60,1166.56 L850.82,1166.64 L853.04,1166.72 L855.26,1166.80 L857.48,1166.88 L859.70,1166.97 L861.92,1167.05 L864.14,1167.13 L866.36,1167.21 L868.58,1167.29 L870.80,1167.37 L873.02,1167.45 L875.24,1167.53 L877.45,1167.61 L879.67,1167.68 L881.89,1167.76 L884.11,1167.84 L886.33,1167.92 L888.55,1168.00 L890.77,1168.07 L892.99,1168.15 L895.21,1168.23 L897.43,1168.30 L899.65,1168.38 L901.87,1168.46 L904.09,1168.53 L906.31,1168.61 L908.52,1168.68 L910.74,1168.76 L912.96,1168.83 L915.18,1168.90 L917.40,1168.98 L919.62,1169.05 L921.84,1169.13 L924.06,1169.20 L926.28,1169.27 L928.50,1169.34 L930.72,1169.42 L932.94,1169.49 L935.16,1169.56 L937.38,1169.63 L939.59,1169.70 L941.81,1169.77 L944.03,1169.84 L946.25,1169.92 L948.47,1169.99 L950.69,1170.06 L952.91,1170.13 L955.13,1170.20 L957.35,1170.26 L959.57,1170.33 L961.79,1170.40 L964.01,1170.47 L966.23,1170.54 L968.45,1170.61 L970.66,1170.68 L972.88,1170.74 L975.10,1170.81 L977.32,1170.88 L979.54,1170.95 L981.76,1171.01 L983.98,1171.08 L986.20,1171.15" fill="none" stroke="#1f77b4" stroke-width="5.28" stroke-linejoin="round" stroke-dasharray="19.54 8.45"/>
<path d="M100.70,1077.83 L102.92,1080.12 L105.14,1082.35 L107.36,1084.50 L109.58,1086.59 L111.80,1088.62 L114.02,1090.58 L116.24,1092.49 L118.45,1094.35 L120.67,1096.15 L122.89,1097.89 L125.11,1099.59 L127.33,1101.24 L129.55,1102.85 L131.77,1104.41 L133.99,1105.92 L136.21,1107.40 L138.43,1108.83 L140.65,1110.23 L142.87,1111.59 L145.09,1112.92 L147.31,1114.21 L149.52,1115.46 L151.74,1116.69 L153.96,1117.88 L156.18,1119.05 L158.40,1120.18 L160.62,1121.29 L162.84,1122.37 L165.06,1123.42 L167.28,1124.45 L169.50,1125.45 L171.72,1126.43 L173.94,1127.39 L176.16,1128.32 L178.38,1129.23 L180.59,1130.12 L182.81,1130.99 L185.03,1131.85 L187.25,1132.68 L189.47,1133.49 L191.69,1134.29 L193.91,1135.07 L196.13,1135.83 L198.35,1136.57 L200.57,1137.30 L202.79,1138.02 L205.01,1138.72 L207.23,1139.40 L209.45,1140.07 L211.66,1140.73 L213.88,1141.37 L216.10,1142.00 L218.32,1142.62 L220.54,1143.23 L222.76,1143.82 L224.98,1144.41 L227.20,1144.98 L229.42,1145.54 L231.64,1146.09 L233.86,1146.63 L236.08,1147.16 L238.30,1147.68 L240.52,1148.19 L242.74,1148.69 L244.95,1149.18 L247.17,1149.66 L249.39,1150.14 L251.61,1150.60 L253.83,1151.06 L256.05,1151.51 L258.27,1151.95 L260.49,1152.39 L262.71,1152.81 L264.93,1153.23 L267.15,1153.65 L269.37,1154.05 L271.59,1154.45 L273.81,1154.85 L276.02,1155.23 L278.24,1155.62 L280.46,1155.99 L282.68,1156.36 L284.90,1156.72 L287.12,1157.08 L289.34,1157.43 L291.56,1157.78 L293.78,1158.12 L296.00,1158.46 L298.22,1158.79 L300.44,1159.12 L302.66,1159.44 L304.88,1159.75 L307.09,1160.07 L309.31,1160.37 L311.53,1160.68 L313.75,1160.98 L315.97,1161.27 L318.19,1161.56 L320.41,1161.85 L322.63,1162.13 L324.85,1162.41 L327.07,1162.69 L329.29,1162.96 L331.51,1163.23 L333.73,1163.50 L335.95,1163.76 L338.16,1164.02 L340.38,1164.27 L342.60,1164.52 L344.82,1164.77 L347.04,1165.02 L349.26,1165.26 L351.48,1165.50 L353.70,1165.73 L355.92,1165.97 L358.14,1166.20 L360.36,1166.43 L362.58,1166.65 L364.80,1166.87 L367.02,1167.09 L369.24,1167.31 L371.45,1167.53 L373.67,1167.74 L375.89,1167.95 L378.11,1168.16 L380.33,1168.36 L382.55,1168.57 L384.77,1168.77 L386.99,1168.97 L389.21,1169.16 L391.43,1169.36 L393.65,1169.55 L395.87,1169.74 L398.09,1169.93 L400.31,1170.11 L402.52,1170.30 L404.74,1170.48 L406.96,1170.66 L409.18,1170.84 L411.40,1171.02 L413.62,1171.19 L415.84,1171.37 L418.06,1171.54 L420.28,1171.71 L422.50,1171.88 L424.72,1172.04 L426.94,1172.21 L429.16,1172.37 L431.38,1172.54 L433.59,1172.70 L435.81,1172.86 L438.03,1173.01 L440.25,1173.17 L442.47,1173.32 L444.69,1173.48 L446.91,1173.63 L449.13,1173.78 L451.35,1173.93 L453.57,1174.08 L455.79,1174.22 L458.01,1174.37 L460.23,1174.51 L462.45,1174.66 L464.66,1174.80 L466.88,1174.94 L469.10,1175.08 L471.32,1175.22 L473.54,1175.35 L475.76,1175.49 L477.98,1175.62 L480.20,1175.76 L482.42,1175.89 L484.64,1176.02 L486.86,1176.15 L489.08,1176.28 L491.30,1176.41 L493.52,1176.54 L495.74,1176.66 L497.95,1176.79 L500.17,1176.91 L502.39,1177.04 L504.61,1177.16 L506.83,1177.28 L509.05,1177.40 L511.27,1177.52 L513.49,1177.64 L515.71,1177.76 L517.93,1177.87 L520.15,1177.99 L522.37,1178.11 L524.59,1178.22 L526.81,1178.33 L529.02,1178.45 L531.24,1178.56 L533.46,1178.67 L535.68,1178.78 L537.90,1178.89 L540.12,1179.00 L542.34,1179.11 L544.56,1179.22 L546.78,1179.32 L549.00,1179.43 L551.22,1179.53 L553.44,1179.64 L555.66,1179.74 L557.88,1179.85 L560.09,1179.95 L562.31,1180.05 L564.53,1180.15 L566.75,1180.25 L568.97,1180.35 L571.19,1180.45 L573.41,1180.55 L575.63,1180.65 L577.85,1180.74 L580.07,1180.84 L582.29,1180.94 L584.51,1181.03 L586.73,1181.13 L588.95,1181.22 L591.16,1181.32 L593.38,1181.41 L595.60,1181.50 L597.82,1181.59 L600.04,1181.68 L602.26,1181.78 L604.48,1181.87 L606.70,1181.96 L608.92,1182.05 L611.14,1182.13 L613.36,1182.22 L615.58,1182.31 L617.80,1182.40 L620.02,1182.48 L622.24,1182.57 L624.45,1182.66 L626.67,1182.74 L628.89,1182.83 L631.11,1182.91 L633.33,1183.00 L635.55,1183.08 L637.77,1183.16 L639.99,1183.24 L642.21,1183.33 L644.43,1183.41 L646.65,1183.49 L648.87,1183.57 L651.09,1183.65 L653.31,1183.73 L655.52,1183.81 L657.74,1183.89 L659.96,1183.97 L662.18,1184.04 L664.40,1184.12 L666.62,1184.20 L668.84,1184.28 L671.06,1184.35 L673.28,1184.43 L675.50,1184.51 L677.72,1184.58 L679.94,1184.66 L682.16,1184.73 L684.38,1184.80 L686.59,1184.88 L688.81,1184.95 L691.03,1185.02 L693.25,1185.10 L695.47,1185.17 L697.69,1185.24 L699.91,1185.31 L702.13,1185.39 L704.35,1185.46 L706.57,1185.53 L708.79,1185.60 L711.01,1185.67 L713.23,1185.74 L715.45,1185.81 L717.66,1185.88 L719.88,1185.94 L722.10,1186.01 L724.32,1186.08 L726.54,1186.15 L728.76,1186.22 L730.98,1186.28 L733.20,1186.35 L735.42,1186.42 L737.64,1186.48 L739.86,1186.55 L742.08,1186.61 L744.30,1186.68 L746.52,1186.74 L748.74,1186.81 L750.95,1186.87 L753.17,1186.94 L755.39,1187.00 L757.61,1187.06 L759.83,1187.13 L762.05,1187.19 L764.27,1187.25 L766.49,1187.32 L768.71,1187.38 L770.93,1187.44 L773.15,1187.50 L775.37,1187.56 L777.59,1187.62 L779.81,1187.68 L782.02,1187.75 L784.24,1187.81 L786.46,1187.87 L788.68,1187.93 L790.90,1187.99 L793.12,1188.04 L795.34,1188.10 L797.56,1188.16 L799.78,1188.22 L802.00,1188.28 L804.22,1188.34 L806.44,1188.40 L808.66,1188.45 L810.88,1188.51 L813.09,1188.57 L815.31,1188.62 L817.53,1188.68 L819.75,1188.74 L821.97,1188.79 L824.19,1188.85 L826.41,1188.91 L828.63,1188.96 L830.85,1189.02 L833.07,1189.07 L835.29,1189.13 L837.51,1189.18 L839.73,1189.24 L841.95,1189.29 L844.16,1189.34 L846.38,1189.40 L848.60,1189.45 L850.82,1189.51 L853.04,1189.56 L855.26,1189.61 L857.48,1189.66 L859.70,1189.72 L861.92,1189.77 L864.14,1189.82 L866.36,1189.87 L868.58,1189.93 L870.80,1189.98 L873.02,1190.03 L875.24,1190.08 L877.45,1190.13 L879.67,1190.18 L881.89,1190.23 L884.11,1190.28 L886.33,1190.33 L888.55,1190.38 L890.77,1190.43 L892.99,1190.48 L895.21,1190.53 L897.43,1190.58 L899.65,1190.63 L901.87,1190.68 L904.09,1190.73 L906.31,1190.78 L908.52,1190.83 L910.74,1190.88 L912.96,1190.93 L915.18,1190.97 L917.40,1191.02 L919.62,1191.07 L921.84,1191.12 L924.06,1191.16 L926.28,1191.21 L928.50,1191.26 L930.72,1191.31 L932.94,1191.35 L935.16,1191.40 L937.38,1191.45 L939.59,1191.49 L941.81,1191.54 L944.03,1191.58 L946.25,1191.63 L948.47,1191.68 L950.69,1191.72 L952.91,1191.77 L955.13,1191.81 L957.35,1191.86 L959.57,1191.90 L961.79,1191.95 L964.01,1191.99 L966.23,1192.04 L968.45,1192.08 L970.66,1192.12 L972.88,1192.17 L975.10,1192.21 L977.32,1192.26 L979.54,1192.30 L981.76,1192.34 L983.98,1192.39 L986.20,1192.43" fill="none" stroke="#1f77b4" stroke-width="5.28" stroke-linejoin="round" stroke-dasharray="5.28 8.71"/>
</g>
<rect x="100.7" y="711.5" width="885.5" height="523.0" fill="none" stroke="#000" stroke-width="2.11"/>
<line x1="100.70" y1="1234.5" x2="100.70" y2="1244.0" stroke="#000" stroke-width="2.11"/>
<text x="100.70" y="1276.9" text-anchor="middle">0.0</text>
<line x1="211.39" y1="1234.5" x2="211.39" y2="1244.0" stroke="#000" stroke-width="2.11"/>
<text x="211.39" y="1276.9" text-anchor="middle">0.5</text>
<line x1="322.07" y1="1234.5" x2="322.07" y2="1244.0" stroke="#000" stroke-width="2.11"/>
<text x="322.07" y="1276.9" text-anchor="middle">1.0</text>
<line x1="432.76" y1="1234.5" x2="432.76" y2="1244.0" stroke="#000" stroke-width="2.11"/>
<text x="432.76" y="1276.9" text-anchor="middle">1.5</text>
<line x1="543.45" y1="1234.5" x2="543.45" y2="1244.0" stroke="#000" stroke-width="2.11"/>
<text x="543.45" y="1276.9" text-anchor="middle">2.0</text>
<line x1="654.14" y1="1234.5" x2="654.14" y2="1244.0" stroke="#000" stroke-width="2.11"/>
<text x="654.14" y="1276.9" text-anchor="middle">2.5</text>
<line x1="764.83" y1="1234.5" x2="764.83" y2="1244.0" stroke="#000" stroke-width="2.11"/>
<text x="764.83" y="1276.9" text-anchor="middle">3.0</text>
<line x1="875.51" y1="1234.5" x2="875.51" y2="1244.0" stroke="#000" stroke-width="2.11"/>
<text x="875.51" y="1276.9" text-anchor="middle">3.5</text>
<line x1="986.20" y1="1234.5" x2="986.20" y2="1244.0" stroke="#000" stroke-width="2.11"/>
<text x="986.20" y="1276.9" text-anchor="middle">4.0</text>
<line x1="100.7" y1="1234.50" x2="91.2" y2="1234.50" stroke="#000" stroke-width="2.11"/>
<text x="82.1" y="1246.50" text-anchor="end">0</text>
<line x1="100.7" y1="1129.90" x2="91.2" y2="1129.90" stroke="#000" stroke-width="2.11"/>
<text x="82.1" y="1141.90" text-anchor="end">10</text>
<line x1="100.7" y1="1025.30" x2="91.2" y2="1025.30" stroke="#000" stroke-width="2.11"/>
<text x="82.1" y="1037.30" text-anchor="end">20</text>
<line x1="100.7" y1="920.70" x2="91.2" y2="920.70" stroke="#000" stroke-width="2.11"/>
<text x="82.1" y="932.70" text-anchor="end">30</text>
<line x1="100.7" y1="816.10" x2="91.2" y2="816.10" stroke="#000" stroke-width="2.11"/>
<text x="82.1" y="828.10" text-anchor="end">40</text>
<line x1="100.7" y1="711.50" x2="91.2" y2="711.50" stroke="#000" stroke-width="2.11"/>
<text x="82.1" y="723.50" text-anchor="end">50</text>
<text x="543.45" y="1318.4" text-anchor="middle">Redshift</text>
<text transform="translate(24,973.00) rotate(-90)" text-anchor="middle">Frequency Scale (MHz)</text>
</svg>
</body></html>
